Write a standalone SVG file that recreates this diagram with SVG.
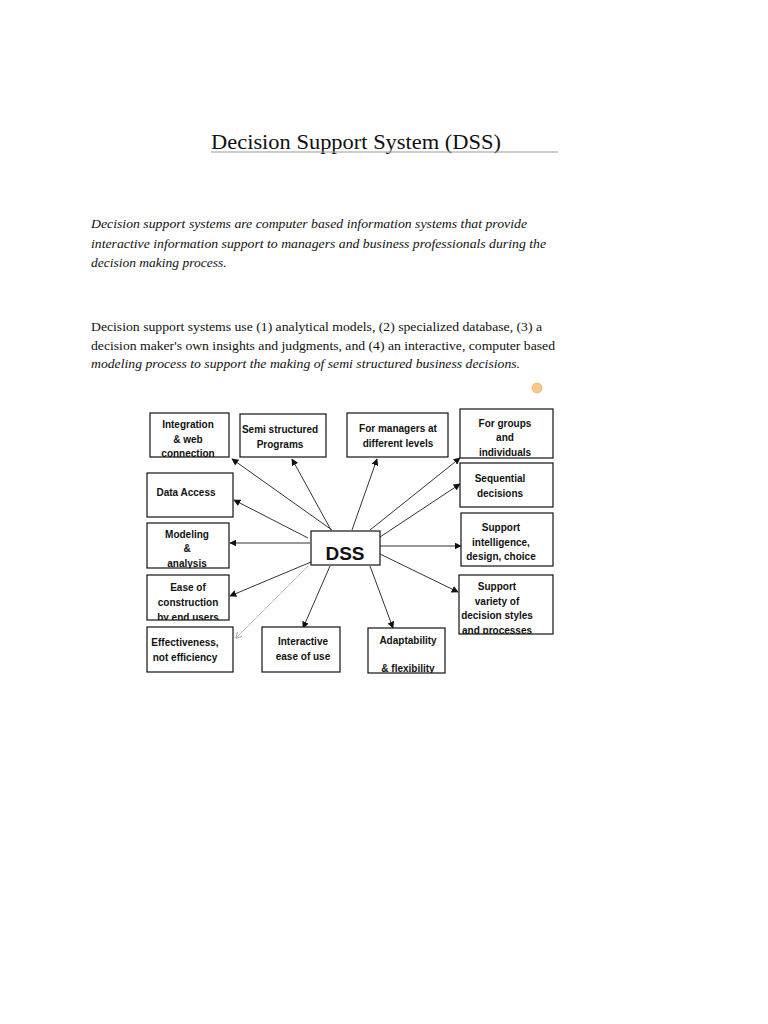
<svg xmlns="http://www.w3.org/2000/svg" width="768" height="1024" viewBox="0 0 768 1024">
<style>
.serif{font-family:"Liberation Serif","Times New Roman",serif;fill:#111}
.it{font-style:italic}
.box{fill:#fff;stroke:#111;stroke-width:1.2}
.bg{fill:#fff;stroke:none}
.frame{fill:none;stroke:#111;stroke-width:1.2}
.lbl{font-family:"Liberation Sans",Arial,sans-serif;font-weight:bold;font-size:10px;fill:#111;text-anchor:middle}
.con{stroke:#333;stroke-width:1;fill:none;marker-end:url(#ah)}
</style>
<defs>
<marker id="ah" viewBox="0 0 10 10" refX="9" refY="5" markerWidth="7" markerHeight="7" markerUnits="userSpaceOnUse" orient="auto">
<path d="M0,0 L10,5 L0,10 z" fill="#111"/>
</marker>
<marker id="ahg" viewBox="0 0 10 10" refX="9" refY="5" markerWidth="7" markerHeight="7" markerUnits="userSpaceOnUse" orient="auto">
<path d="M0,0 L10,5 L0,10" fill="none" stroke="#aaa" stroke-width="1.5"/>
</marker>
<clipPath id="c-int"><rect x="150" y="413" width="79" height="44"/></clipPath>
<clipPath id="c-grp"><rect x="460" y="409" width="93" height="49"/></clipPath>
<clipPath id="c-mod"><rect x="147" y="523" width="82" height="45"/></clipPath>
<clipPath id="c-ease"><rect x="147" y="575" width="82" height="45"/></clipPath>
<clipPath id="c-var"><rect x="459" y="575" width="94" height="59"/></clipPath>
<clipPath id="c-ada"><rect x="368" y="628" width="77" height="45"/></clipPath>
</defs>
<rect width="768" height="1024" fill="#fff"/>
<text class="serif" x="211" y="149" font-size="22" textLength="290" lengthAdjust="spacingAndGlyphs">Decision Support System (DSS)</text>
<line x1="211" y1="152" x2="558" y2="152" stroke="#999" stroke-width="1"/>
<g class="serif it" font-size="13.5">
<text x="91" y="228" textLength="436" lengthAdjust="spacingAndGlyphs">Decision support systems are computer based information systems that provide</text>
<text x="91" y="248" textLength="455" lengthAdjust="spacingAndGlyphs">interactive information support to managers and business professionals during the</text>
<text x="91" y="267">decision making process.</text>
</g>
<g class="serif" font-size="13.5">
<text x="91" y="331" textLength="451" lengthAdjust="spacingAndGlyphs">Decision support systems use (1) analytical models, (2) specialized database, (3) a</text>
<text x="91" y="350" textLength="464" lengthAdjust="spacingAndGlyphs">decision maker's own insights and judgments, and (4) an interactive, computer based</text>
<text class="it" x="91" y="368" textLength="429" lengthAdjust="spacingAndGlyphs">modeling process to support the making of semi structured business decisions.</text>
</g>
<circle cx="537" cy="388" r="5" fill="#f7c98c" stroke="#e9b070" stroke-width="0.8"/>
<g id="connectors">
<line class="con" x1="332" y1="530" x2="232" y2="459"/>
<line class="con" x1="331" y1="530" x2="292" y2="459"/>
<line class="con" x1="308" y1="538" x2="234" y2="500"/>
<line class="con" x1="310" y1="543" x2="230" y2="543" stroke="#666"/>
<line class="con" x1="352" y1="530" x2="377" y2="459"/>
<line class="con" x1="370" y1="530" x2="460" y2="458"/>
<line class="con" x1="380" y1="537" x2="460" y2="484"/>
<line class="con" x1="380" y1="546" x2="461" y2="546" stroke="#666" stroke-width="2.5"/>
<line class="con" x1="380" y1="554" x2="458" y2="592"/>
<line class="con" x1="311" y1="562" x2="230" y2="596"/>
<line x1="308" y1="566" x2="236" y2="638" stroke="#bbb" stroke-width="1" marker-end="url(#ahg)"/>
<line class="con" x1="330" y1="566" x2="303" y2="628"/>
<line class="con" x1="370" y1="566" x2="393" y2="628"/>
</g>
<g id="n-integration"><rect class="bg" x="150" y="413" width="79" height="44"/>
<g clip-path="url(#c-int)"><text class="lbl" x="188" y="428">Integration</text><text class="lbl" x="188" y="443">&amp; web</text><text class="lbl" x="188" y="457">connection</text></g>
<rect class="frame" x="150" y="413" width="79" height="44"/></g>
<g id="n-semi"><rect class="box" x="240" y="414" width="86" height="43"/>
<text class="lbl" x="280" y="433">Semi structured</text><text class="lbl" x="280" y="448">Programs</text></g>
<g id="n-managers"><rect class="box" x="347" y="413" width="101" height="44"/>
<text class="lbl" x="398" y="432">For managers at</text><text class="lbl" x="398" y="447">different levels</text></g>
<g id="n-groups"><rect class="bg" x="460" y="409" width="93" height="49"/>
<g clip-path="url(#c-grp)"><text class="lbl" x="505" y="427">For groups</text><text class="lbl" x="505" y="441">and</text><text class="lbl" x="505" y="456">individuals</text></g>
<rect class="frame" x="460" y="409" width="93" height="49"/></g>
<g id="n-data"><rect class="box" x="147" y="473" width="86" height="44"/>
<text class="lbl" x="186" y="496">Data Access</text></g>
<g id="n-sequential"><rect class="box" x="460" y="463" width="93" height="44"/>
<text class="lbl" x="500" y="482">Sequential</text><text class="lbl" x="500" y="497">decisions</text></g>
<g id="n-modeling"><rect class="bg" x="147" y="523" width="82" height="45"/>
<g clip-path="url(#c-mod)"><text class="lbl" x="187" y="538">Modeling</text><text class="lbl" x="187" y="552">&amp;</text><text class="lbl" x="187" y="567">analysis</text></g>
<rect class="frame" x="147" y="523" width="82" height="45"/></g>
<g id="n-dss"><rect class="box" x="311" y="531" width="69" height="34"/>
<text x="345" y="560" font-family="Liberation Sans,Arial,sans-serif" font-weight="bold" font-size="19" text-anchor="middle" fill="#111">DSS</text></g>
<g id="n-intelligence"><rect class="box" x="461" y="513" width="92" height="53"/>
<text class="lbl" x="501" y="531">Support</text><text class="lbl" x="501" y="546">intelligence,</text><text class="lbl" x="501" y="560">design, choice</text></g>
<g id="n-ease"><rect class="bg" x="147" y="575" width="82" height="45"/>
<g clip-path="url(#c-ease)"><text class="lbl" x="188" y="591">Ease of</text><text class="lbl" x="188" y="606">construction</text><text class="lbl" x="188" y="621">by end users</text></g>
<rect class="frame" x="147" y="575" width="82" height="45"/></g>
<g id="n-variety"><rect class="bg" x="459" y="575" width="94" height="59"/>
<g clip-path="url(#c-var)"><text class="lbl" x="497" y="590">Support</text><text class="lbl" x="497" y="605">variety of</text><text class="lbl" x="497" y="619">decision styles</text><text class="lbl" x="497" y="634">and processes</text></g>
<rect class="frame" x="459" y="575" width="94" height="59"/></g>
<g id="n-effectiveness"><rect class="box" x="147" y="627" width="86" height="45"/>
<text class="lbl" x="185" y="646">Effectiveness,</text><text class="lbl" x="185" y="661">not efficiency</text></g>
<g id="n-interactive"><rect class="box" x="262" y="627" width="78" height="45"/>
<text class="lbl" x="303" y="645">Interactive</text><text class="lbl" x="303" y="660">ease of use</text></g>
<g id="n-adaptability"><rect class="bg" x="368" y="628" width="77" height="45"/>
<g clip-path="url(#c-ada)"><text class="lbl" x="408" y="644">Adaptability</text><text class="lbl" x="408" y="672">&amp; flexibility</text></g>
<rect class="frame" x="368" y="628" width="77" height="45"/></g>
</svg>
